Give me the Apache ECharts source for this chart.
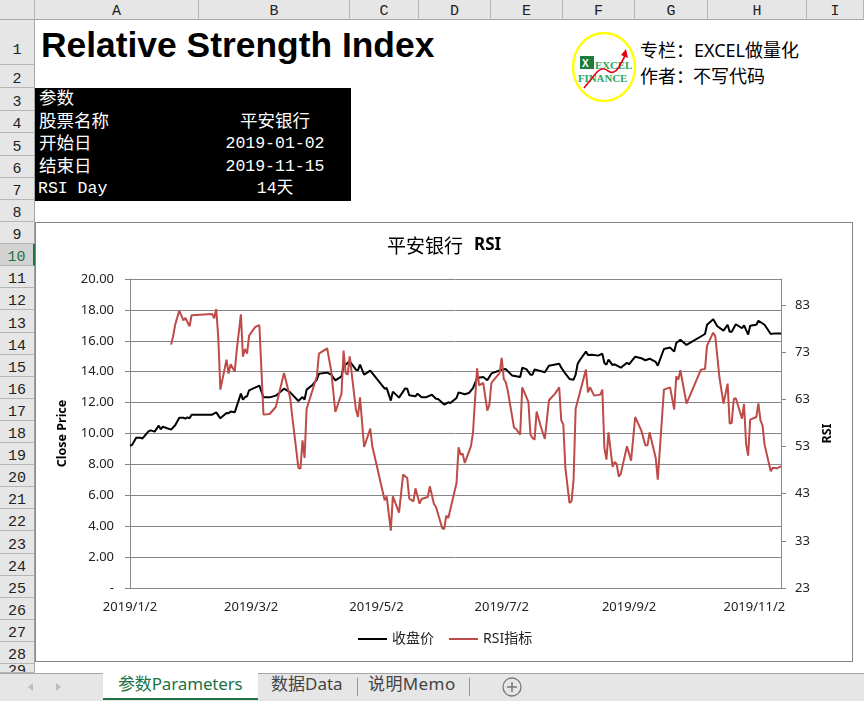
<!DOCTYPE html>
<html>
<head>
<meta charset="utf-8">
<title>Relative Strength Index</title>
<script src="https://cdn.jsdelivr.net/npm/echarts@6/dist/echarts.min.js"></script>
<style>
html,body{margin:0;padding:0;background:#fff;width:864px;height:701px;overflow:hidden;}
.abs{position:absolute;white-space:nowrap;}
.hd{position:absolute;background:#e6e6e6;color:#222;font:15px "Liberation Mono","Noto Sans CJK SC",monospace;text-align:center;box-sizing:border-box;}
.cell{position:absolute;color:#fff;font:16.5px/22px "Liberation Mono","Noto Sans CJK SC",monospace;white-space:nowrap;}
.tab{position:absolute;top:674px;font:17px/20px "Noto Sans","Noto Sans CJK SC",sans-serif;color:#444;white-space:nowrap;}
.note{position:absolute;white-space:nowrap;font:18px/22px "Noto Sans","Noto Sans CJK SC",sans-serif;color:#000;}
#chartBox{position:absolute;left:35px;top:222px;width:818px;height:440px;box-shadow:0 0 0 1px #868686 inset;}
#chart{width:818px;height:440px;}
</style>
</head>
<body>
<div class="abs" style="left:41px;top:23px;font:bold 35.4px/44px 'Liberation Sans',sans-serif;color:#000;">Relative Strength Index</div>

<!-- 参数表 -->
<div class="abs" style="left:35px;top:88px;width:316px;height:113px;background:#000;"></div>
<div id="params"></div>

<!-- logo -->
<svg class="abs" style="left:565px;top:28px;" width="80" height="80" viewBox="565 28 80 80">
  <ellipse cx="604" cy="67" rx="31" ry="34" fill="#fff" stroke="#ffff00" stroke-width="2.4"/>
  <rect x="580" y="56" width="14" height="13" fill="#1e7d3c"/>
  <text x="582" y="67" font-size="10" font-weight="bold" fill="#fff" font-family="Liberation Sans">X</text>
  <text x="595" y="69" font-size="10.8" font-weight="bold" fill="#2aa55e" font-family="Liberation Serif">EXCEL</text>
  <text x="578" y="82" font-size="10.8" font-weight="bold" fill="#2aa55e" font-family="Liberation Serif">FINANCE</text>
  <path d="M584 88 L597 72 Q603 66 608 71 Q614 75 619 67 L626 54" fill="none" stroke="#e60012" stroke-width="1.6"/>
  <path d="M626 49 L628 58 L621 55 Z" fill="#e60012"/>
</svg>
<div class="note" style="left:640px;top:39px;">专栏：</div>
<div class="note" style="left:694px;top:39px;">EXCEL做量化</div>
<div class="note" style="left:640px;top:65px;">作者：</div>
<div class="note" style="left:693px;top:65px;">不写代码</div>

<div id="chartBox"><div id="chart"></div></div>

<div id="headers"></div>

<!-- 工作表标签 -->
<div class="abs" style="left:0;top:673px;width:864px;height:28px;background:#e6e6e6;border-top:1px solid #a6a6a6;box-sizing:border-box;"></div>
<div class="abs" style="left:103px;top:673px;width:155px;height:27px;background:#fff;border-bottom:2px solid #217346;box-sizing:border-box;"></div>
<div class="tab" style="left:118px;color:#217346;letter-spacing:-0.15px;">参数Parameters</div>
<div class="tab" style="left:271px;">数据Data</div>
<div class="tab" style="left:368px;letter-spacing:0.4px;">说明Memo</div>
<div class="abs" style="left:357px;top:678px;width:1px;height:18px;background:#999;"></div>
<div class="abs" style="left:469px;top:678px;width:1px;height:18px;background:#999;"></div>
<svg class="abs" style="left:20px;top:678px;" width="50" height="18"><path d="M13 5 L8 9 L13 13 Z M36 5 L41 9 L36 13 Z" fill="#bdbdbd"/></svg>
<svg class="abs" style="left:501px;top:676px;" width="22" height="22"><circle cx="11" cy="11" r="9" fill="none" stroke="#777" stroke-width="1.3"/><path d="M6 11 H16 M11 6 V16" stroke="#777" stroke-width="1.5"/></svg>

<script>
//收盘价：距开始日(2019-01-02)的天数与价格
var closeDays = [0,1,3,5,6,9,10,12,14,15,16,20,22,24,26,27,28,29,30,40,42,44,47,48,49,51,54,55,56,57,58,63,65,68,71,75,78,82,84,85,86,89,91,92,96,98,100,103,104,107,110,111,112,114,117,124,125,127,128,131,134,135,136,139,140,142,144,147,149,150,153,155,156,159,160,163,165,167,169,172,174,176,181,183,186,190,191,193,195,196,197,202,204,209,210,212,214,216,217,218,219,222,223,225,228,230,231,232,233,235,236,239,242,243,246,249,251,253,256,257,260,263,265,266,268,271,280,281,284,286,289,291,292,293,295,298,299,301,302,305,306,309,312,314,317];
var closeValues = [9.21,9.26,9.73,9.73,9.67,10.14,10.20,10.12,10.51,10.27,10.44,10.25,10.53,11.02,11.02,10.96,11.05,10.98,11.22,11.22,11.37,10.98,11.33,11.31,11.43,11.37,12.58,12.19,12.36,12.41,12.79,13.10,12.34,12.34,12.45,12.90,12.66,12.10,12.36,12.19,12.84,13.16,13.48,13.87,13.94,13.81,13.44,13.70,14.35,14.67,14.13,14.09,14.46,13.81,14.07,12.90,12.94,12.13,12.71,12.32,12.92,12.90,12.47,12.41,12.58,12.34,12.34,12.51,12.25,12.23,11.87,12.02,11.97,12.30,12.66,12.54,12.62,12.94,13.59,13.66,13.44,13.89,14.13,14.17,13.76,13.66,14.26,14.17,13.81,13.81,14.15,13.96,14.39,14.52,14.26,13.87,13.53,13.48,13.81,14.52,14.74,15.30,15.08,15.10,15.04,15.17,14.56,14.46,14.78,14.43,14.48,14.26,14.58,14.48,14.97,14.87,14.74,14.84,14.63,14.39,15.47,15.56,15.30,15.86,16.07,15.73,16.44,17.04,17.39,16.94,16.66,17.04,16.59,16.59,17.07,16.81,17.00,16.40,16.98,17.04,17.30,17.04,16.44,16.48,16.48];
//RSI指标：前14日没有值
var rsiDays = [20,21,22,24,26,27,29,30,40,41,42,43,44,47,48,49,51,52,54,55,56,57,58,61,63,65,68,71,75,78,79,82,83,84,85,86,91,92,96,98,100,103,104,105,106,107,110,111,112,114,117,118,124,125,127,128,131,133,135,136,138,139,141,142,145,146,148,149,152,153,154,155,159,160,161,162,163,166,167,169,170,172,174,175,176,180,181,182,183,184,187,188,190,191,194,195,196,197,198,200,202,204,207,209,210,211,212,214,215,216,217,222,223,224,226,229,230,231,232,233,235,236,237,238,239,242,244,246,249,251,252,253,256,257,260,263,265,266,267,268,271,278,280,281,284,285,287,289,291,292,293,294,295,298,299,300,301,302,305,306,307,308,309,312,313,315,317];
var rsiValues = [74.59,76.36,78.83,81.8,79.75,80.24,78.48,80.81,81.09,80.17,82.15,76.0,65.05,71.41,68.44,70.42,68.87,73.53,81.02,72.05,73.67,72.68,76.5,78.34,78.69,59.75,59.89,61.37,68.58,63.28,59.4,48.44,48.3,54.31,50.56,60.95,67.88,72.68,73.81,68.94,60.31,64.2,73.32,68.58,68.23,72.12,60.81,59.25,63.42,52.89,56.78,53.04,41.59,42.43,35.16,42.43,38.97,47.03,46.32,41.94,41.37,44.13,40.88,41.87,42.29,44.55,40.81,40.17,35.72,35.51,38.34,37.84,45.26,52.82,51.27,51.48,49.5,53.04,55.86,69.57,65.97,66.46,60.6,61.87,66.46,68.58,71.76,67.31,66.6,64.7,57.0,56.71,55.51,65.54,62.43,55.51,54.8,54.45,60.39,57.28,54.59,62.79,64.2,65.54,58.55,57.63,48.44,41.02,41.37,45.97,61.02,69.29,64.48,65.54,63.78,63.99,65.05,52.68,50.21,56.0,48.65,49.71,49.29,46.6,47.24,53.04,50.0,59.25,56.36,53.18,53.25,56.0,50.56,45.97,65.05,65.54,60.81,67.88,67.17,69.15,62.08,69.29,69.43,74.38,77.13,76.36,67.73,62.08,66.32,57.84,57.98,63.07,63.21,58.9,62.01,53.53,51.06,58.69,59.25,62.15,58.55,57.49,53.39,47.73,48.51,48.37,48.8];
//坐标轴刻度
var xTickDays = [0,59,120,181,243,304];
var xTickLabels = ['2019/1/2','2019/3/2','2019/5/2','2019/7/2','2019/9/2','2019/11/2'];
var rsiTicks = [23,33,43,53,63,73,83];
//参数表内容
var paramLabels = ['参数','股票名称','开始日','结束日','RSI Day'];
var paramValues = ['','平安银行','2019-01-02','2019-11-15','14天'];
//表头
var colNames = ['A','B','C','D','E','F','G','H','I'];
var colEdges = [35,199,350,419,491,563,635,708,807,864];
var rowEdges = [20,65,88,111,133,156,178,200,222];

function toPairs(days, values){
    return days.map(function(d, i){ return [d, values[i]]; });
}

//参数表和工作表表头
{
    let html = '';
    let rowTops = [88,111,133,156,178];
    function cellFont(text){
        return /^[\u4e00-\u9fff]+$/.test(text) ? 'font-size:17.5px;' : '';
    }
    for(let i=0; i<paramLabels.length; i++){
        html += '<div class="cell" style="' + cellFont(paramLabels[i]) + 'left:' + (i === 4 ? 38 : 39) + 'px;top:' + rowTops[i] + 'px;">' + paramLabels[i] + '</div>';
        html += '<div class="cell" style="' + cellFont(paramValues[i]) + 'left:199px;width:152px;text-align:center;top:' + rowTops[i] + 'px;">' + paramValues[i] + '</div>';
    }
    document.getElementById('params').innerHTML = html;

    let hd = '<div class="hd" style="left:0;top:0;width:35px;height:20px;border-right:1px solid #b5b5b5;border-bottom:1px solid #a6a6a6;"></div>';
    for(let i=0; i<colNames.length; i++){
        hd += '<div class="hd" style="left:' + colEdges[i] + 'px;top:0;width:' + (colEdges[i+1]-colEdges[i]) + 'px;height:20px;line-height:24px;border-right:1px solid #b5b5b5;border-bottom:1px solid #a6a6a6;">' + colNames[i] + '</div>';
    }
    let edges = rowEdges.slice();
    for(let n=9; n<=29; n++){
        edges.push(Math.round(222 + 22.1*(n-8)));
    }
    for(let n=1; n<=29; n++){
        let top = edges[n-1], h = Math.min(edges[n], 673) - top;
        let sel = n === 10;
        //第1行较高，数字靠下
        let lineH = n === 1 ? h + 16 : h + 6;
        hd += '<div class="hd" style="left:0;top:' + top + 'px;width:35px;height:' + h + 'px;line-height:' + lineH + 'px;border-bottom:1px solid #b5b5b5;overflow:hidden;'
            + (sel ? 'background:#d2d2d2;color:#217346;border-right:2px solid #217346;' : 'border-right:1px solid #a6a6a6;') + '">' + n + '</div>';
    }
    document.getElementById('headers').innerHTML = hd;
}

//绘制RSI图
{
    let gray = '#868686';
    let labelFont = '"Noto Sans","Noto Sans CJK SC",sans-serif';
    let chart = echarts.init(document.getElementById('chart'));
    let option = {
        animation: false,
        backgroundColor: 'transparent',
        title: {
            text: '{a|平安银行}{b|RSI}',
            left: 352,
            top: 14,
            padding: 0,
            textStyle: {
                rich: {
                    a: {fontSize: 19, fontWeight: 'normal', color: '#000', fontFamily: '"Noto Sans CJK SC"'},
                    b: {fontSize: 17, fontWeight: 'bold', color: '#000', fontFamily: labelFont, padding: [0,0,0,11]}
                }
            }
        },
        legend: {
            left: 318,
            top: 405,
            icon: 'rect',
            itemWidth: 29,
            itemHeight: 2,
            itemGap: 15,
            textStyle: {fontSize: 14, color: '#222', fontFamily: labelFont},
            data: ['收盘价','RSI指标']
        },
        grid: {left: 95, top: 57, width: 651, height: 309},
        xAxis: {
            type: 'value',
            min: 0,
            max: 317,
            axisLine: {onZero: false, lineStyle: {color: gray}},
            axisTick: {show: false},
            splitLine: {show: false},
            axisLabel: {
                customValues: xTickDays,
                margin: 13,
                fontSize: 13,
                color: '#222',
                fontFamily: labelFont,
                formatter: function(value){
                    return xTickLabels[xTickDays.indexOf(value)];
                }
            }
        },
        yAxis: [
            {
                type: 'value',
                min: 0,
                max: 20,
                interval: 2,
                name: 'Close Price',
                nameLocation: 'middle',
                nameGap: 61,
                nameTextStyle: {fontSize: 12.5, fontWeight: 'bold', color: '#000', fontFamily: labelFont},
                axisLine: {show: true, lineStyle: {color: gray}},
                axisTick: {show: true, length: 5, lineStyle: {color: gray}},
                splitLine: {show: true, lineStyle: {color: gray, width: 1}},
                axisLabel: {
                    margin: 16,
                    fontSize: 13,
                    color: '#222',
                    fontFamily: labelFont,
                    formatter: function(v){ return v === 0 ? '-' : v.toFixed(2); }
                }
            },
            {
                type: 'value',
                min: 23,
                max: 88.5,
                name: 'RSI',
                nameLocation: 'middle',
                nameGap: 36,
                nameTextStyle: {fontSize: 12.5, fontWeight: 'bold', color: '#000', fontFamily: labelFont},
                axisLine: {show: true, lineStyle: {color: gray}},
                axisTick: {show: true, length: 5, customValues: rsiTicks, lineStyle: {color: gray}},
                splitLine: {show: false},
                axisLabel: {
                    customValues: rsiTicks,
                    margin: 14,
                    fontSize: 13,
                    color: '#222',
                    fontFamily: labelFont
                }
            }
        ],
        series: [
            {
                name: '收盘价',
                type: 'line',
                yAxisIndex: 0,
                symbol: 'none',
                lineStyle: {color: '#000', width: 2},
                itemStyle: {color: '#000'},
                data: toPairs(closeDays, closeValues)
            },
            {
                name: 'RSI指标',
                type: 'line',
                yAxisIndex: 1,
                symbol: 'none',
                lineStyle: {color: '#BE4B48', width: 2},
                itemStyle: {color: '#BE4B48'},
                data: toPairs(rsiDays, rsiValues)
            }
        ]
    };
    chart.setOption(option);
}
</script>
</body>
</html>
